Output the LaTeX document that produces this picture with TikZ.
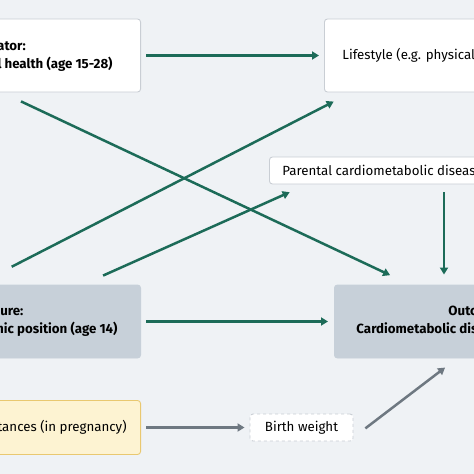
\documentclass[tikz,border=0pt]{standalone}
\usepackage{fontspec}
\setmainfont{Fira Sans}
\usetikzlibrary{positioning,arrows.meta,calc}
\definecolor{bgpage}{HTML}{EFF2F5}
\definecolor{boxline}{HTML}{C9CED4}
\definecolor{slateblue}{HTML}{C7D0D9}
\definecolor{paleyellow}{HTML}{FDF3D2}
\definecolor{goldline}{HTML}{E9C870}
\definecolor{pathgreen}{HTML}{1C6B58}
\definecolor{pathgray}{HTML}{6E7881}

\begin{document}
\begin{tikzpicture}[x=1pt, y=-1pt,
  box/.style={draw=boxline, line width=0.9pt, rounded corners=3pt, fill=white, align=center,
    minimum height=73pt, inner ysep=0pt, font=\fontsize{13.3}{18}\selectfont},
  strong/.style={box, font=\bfseries\fontsize{13.3}{18}\selectfont},
  expbox/.style={strong, fill=slateblue, draw=slateblue},
  prenatal/.style={box, fill=paleyellow, draw=goldline, minimum height=54pt},
  thin/.style={box, minimum height=27pt},
  arr/.style={-{Triangle[length=7pt, width=8pt]}, line width=2.5pt, color=pathgreen},
  grayarr/.style={arr, color=pathgray}]
\useasboundingbox (0,0) rectangle (474,474);
\clip (0,0) rectangle (474,474);
\fill[bgpage] (0,0) rectangle (474,474);
\node[strong, anchor=east, inner xsep=28pt] (med) at (141,55.5) {Mediator:\\Adolescent physical health (age 15-28)};
\node[box, anchor=west, inner xsep=18pt] (life) at (324,55.5) {Lifestyle (e.g. physical activity)};
\node[thin, anchor=west, inner xsep=13pt] (par) at (269,170.5) {Parental cardiometabolic disease};
\node[expbox, anchor=east, inner xsep=23pt] (expo) at (141,321.5) {Exposure:\\Parental socioeconomic position (age 14)};
\node[expbox, anchor=west, inner xsep=22pt] (out) at (334,321.5) {Outcome:\\Cardiometabolic disease (age 29-45 yrs)};
\node[prenatal, anchor=east, inner xsep=14pt] (subst) at (141,427.5) {Maternal substances (in pregnancy)};
\node[thin, dashed, minimum width=103pt] (bw) at (301.5,427.5) {Birth weight};
% straight paths
\draw[arr, shorten <=5pt, shorten >=5pt] (med) -- (life);
\draw[arr, shorten <=5pt, shorten >=6pt] (expo) -- (out);
\draw[grayarr, shorten <=5pt, shorten >=5pt] (subst) -- (bw);
\draw[arr, shorten <=8pt, shorten >=10pt] ([xshift=175pt]par.south west) -- ([xshift=110pt]out.north west);
% crossing paths
\draw[arr, shorten <=21pt, shorten >=22pt] ([xshift=-139pt]med.south east) -- ([xshift=76pt]out.north west);
\draw[arr, shorten <=39pt, shorten >=20pt] ([xshift=-164pt]expo.north east) -- ([xshift=27.5pt]life.south west);
\draw[arr, shorten <=22pt, shorten >=19pt] ([xshift=-58pt]expo.north east) -- ([xshift=38pt]par.south west);
\draw[grayarr, shorten <=15pt, shorten >=15pt] ([yshift=4pt]bw.south east) -- ([xshift=123pt]out.south west);
\end{tikzpicture}
\end{document}
